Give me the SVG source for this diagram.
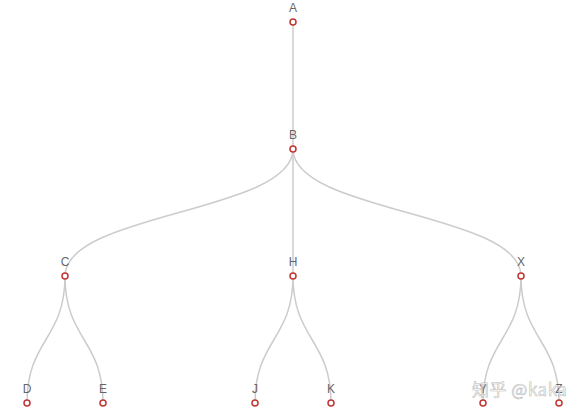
<svg xmlns="http://www.w3.org/2000/svg" width="585" height="414" viewBox="0 0 585 414">
<style>
.link{fill:none;stroke:#cccccc;stroke-width:1.5}
.node circle{fill:#ffffff;stroke:#c23531;stroke-width:1.5}
.node text{font-family:"Liberation Sans",Arial,sans-serif;font-size:12px;fill:#666666;text-anchor:middle}
.wm{font-family:"Noto Sans CJK SC","Liberation Sans",sans-serif;font-size:17px;fill:#ffffff;fill-opacity:0.7;stroke:#aaaaaa;stroke-width:0.6;stroke-opacity:0.8}
</style>
<rect width="585" height="414" fill="#ffffff"/>
<g id="links">
<path class="link" d="M293,22 L293,149"/>
<path class="link" d="M293,149 C293,212.5 65,212.5 65,276"/>
<path class="link" d="M293,149 L293,276"/>
<path class="link" d="M293,149 C293,212.5 521,212.5 521,276"/>
<path class="link" d="M65,276 C65,339.5 27,339.5 27,403"/>
<path class="link" d="M65,276 C65,339.5 103,339.5 103,403"/>
<path class="link" d="M293,276 C293,339.5 255,339.5 255,403"/>
<path class="link" d="M293,276 C293,339.5 331,339.5 331,403"/>
<path class="link" d="M521,276 C521,339.5 483,339.5 483,403"/>
<path class="link" d="M521,276 C521,339.5 559,339.5 559,403"/>
</g>
<g id="node-A" class="node"><circle cx="293" cy="22" r="3"/><text x="293" y="12">A</text></g>
<g id="node-B" class="node"><circle cx="293" cy="149" r="3"/><text x="293" y="139">B</text></g>
<g id="node-C" class="node"><circle cx="65" cy="276" r="3"/><text x="65" y="266">C</text></g>
<g id="node-H" class="node"><circle cx="293" cy="276" r="3"/><text x="293" y="266">H</text></g>
<g id="node-X" class="node"><circle cx="521" cy="276" r="3"/><text x="521" y="266">X</text></g>
<g id="node-D" class="node"><circle cx="27" cy="403" r="3"/><text x="27" y="393">D</text></g>
<g id="node-E" class="node"><circle cx="103" cy="403" r="3"/><text x="103" y="393">E</text></g>
<g id="node-J" class="node"><circle cx="255" cy="403" r="3"/><text x="255" y="393">J</text></g>
<g id="node-K" class="node"><circle cx="331" cy="403" r="3"/><text x="331" y="393">K</text></g>
<g id="node-Y" class="node"><circle cx="483" cy="403" r="3"/><text x="483" y="393">Y</text></g>
<g id="node-Z" class="node"><circle cx="559" cy="403" r="3"/><text x="559" y="393">Z</text></g>
<text class="wm" x="472" y="396" letter-spacing="0.5">知乎 @kaka</text>
</svg>
